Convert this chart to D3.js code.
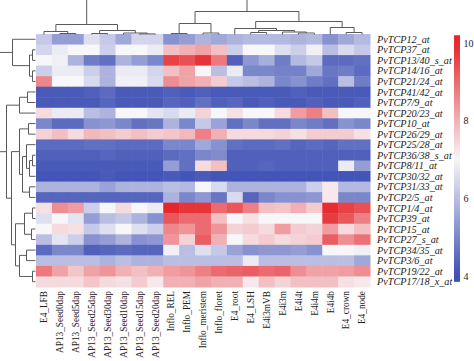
<!DOCTYPE html>
<html><head><meta charset="utf-8">
<script src="https://cdn.jsdelivr.net/npm/d3@7"></script>
<style>body{margin:0;background:#fff}svg{display:block}</style>
</head><body><svg id="c" width="474" height="361"></svg>
<script>
const colNames = ["E4_LFB","AP13_Seed0dap","AP13_Seed5dap","AP13_Seed25dap","AP13_Seed30dap","AP13_Seed10dap","AP13_Seed15dap","AP13_Seed20dap","Inflo_REL","Inflo_PEM","Inflo_meristem","Inflo_floret","E4_root","E4_LSH","E4i3mVB","E4i3m","E4i4t","E4i4m","E4i4b","E4_crown","E4_node"];
const rowNames = ["PvTCP12_at","PvTCP37_at","PvTCP13/40_s_at","PvTCP14/16_at","PvTCP21/24_at","PvTCP41/42_at","PvTCP7/9_at","PvTCP20/23_at","PvTCP10_at","PvTCP26/29_at","PvTCP25/28_at","PvTCP36/38_s_at","PvTCP8/11_at","PvTCP30/32_at","PvTCP31/33_at","PvTCP2/5_at","PvTCP1/4_at","PvTCP39_at","PvTCP15_at","PvTCP27_s_at","PvTCP34/35_at","PvTCP3/6_at","PvTCP19/22_at","PvTCP17/18_x_at"];
const expr = [
[6.2,5.4,5.4,6.6,6.2,5.6,6.4,6.4,5.2,5.4,5.8,5.6,5.8,5.9,5.9,5.9,5.8,5.9,5.2,5.6,5.9],
[6.4,6.8,7.0,7.0,6.3,7.0,7.0,6.8,7.8,8.0,8.2,7.8,6.3,7.0,7.0,6.6,6.3,6.9,6.0,6.5,6.2],
[7.0,6.9,5.8,4.8,4.6,5.8,5.4,5.0,9.6,9.4,9.8,8.8,4.3,5.3,5.7,4.8,5.9,6.2,4.5,4.5,4.6],
[6.3,6.8,6.8,6.3,5.8,6.8,6.8,6.4,7.8,8.2,7.0,6.0,6.8,5.0,5.0,4.9,4.9,5.6,4.7,4.8,4.5],
[8.6,7.0,7.0,6.5,5.8,6.9,6.9,6.5,8.5,8.2,8.0,7.6,6.2,6.0,5.8,5.0,5.2,4.8,4.6,6.0,4.8],
[4.2,4.2,4.2,4.3,4.5,4.2,4.2,4.2,4.3,4.2,4.3,4.2,4.2,4.2,4.2,4.2,4.3,4.2,4.2,4.2,4.2],
[4.2,4.2,4.2,4.2,4.4,4.2,4.2,4.2,4.4,4.3,4.6,4.3,4.4,4.2,4.3,4.2,4.2,4.3,4.2,4.2,4.3],
[7.4,6.8,6.8,6.0,5.8,7.0,7.0,6.7,6.5,6.8,7.5,7.0,7.3,7.0,7.0,7.4,8.3,8.7,7.8,7.0,7.0],
[5.0,4.5,4.5,5.2,5.3,5.0,4.6,4.7,5.8,5.0,6.2,5.5,4.6,5.0,4.6,4.6,5.0,4.8,4.6,5.2,5.0],
[7.5,7.8,7.4,7.9,7.8,7.6,7.8,7.6,7.7,7.9,8.7,8.0,7.4,7.4,7.4,7.5,7.3,7.6,7.6,7.6,7.3],
[4.5,4.5,4.5,4.6,4.6,4.5,4.5,4.5,5.0,5.0,5.6,5.2,4.6,4.5,4.5,4.6,4.4,4.5,4.4,4.6,4.6],
[4.3,4.3,4.3,4.3,4.4,4.3,4.3,4.3,4.5,4.6,5.0,5.1,4.3,4.3,4.3,4.3,4.3,4.3,4.3,4.3,4.3],
[4.2,4.2,4.2,4.2,4.2,4.2,4.2,4.2,5.4,4.6,7.4,7.8,4.3,4.3,4.4,4.3,4.3,4.3,4.3,6.8,5.4],
[4.1,4.1,4.1,4.1,4.2,4.1,4.1,4.1,4.2,4.1,4.2,4.1,4.1,4.1,4.1,4.1,4.1,4.1,4.1,4.1,4.1],
[5.8,5.8,5.8,5.8,5.5,5.8,5.8,5.8,6.0,5.9,7.0,6.5,5.8,5.8,5.8,5.8,5.8,6.3,7.2,5.9,5.9],
[4.4,4.4,4.4,4.4,4.4,4.4,4.4,4.4,5.8,5.0,5.3,4.7,6.5,4.4,5.0,5.2,5.2,5.3,7.2,5.0,5.0],
[7.3,8.5,8.3,6.3,7.0,7.4,7.0,6.8,10.0,9.8,9.8,9.0,9.3,8.7,7.8,7.7,8.0,7.6,9.9,9.6,9.4],
[6.6,7.0,6.7,5.4,6.0,6.2,5.8,5.2,9.3,9.0,9.0,7.8,7.0,7.3,7.0,7.0,7.0,7.0,9.7,9.3,8.7],
[7.0,7.4,7.3,6.2,6.6,7.0,6.6,6.3,8.6,8.4,9.0,8.4,7.5,7.6,7.4,8.3,7.6,7.5,8.3,7.4,7.8],
[6.0,6.7,6.3,5.2,5.4,5.8,5.2,5.3,8.4,7.5,9.2,8.0,7.0,7.4,7.6,7.4,7.5,7.6,9.2,8.5,8.9],
[4.5,5.0,5.0,4.3,4.4,4.5,4.4,4.4,6.9,6.0,6.6,6.2,5.5,5.2,5.3,5.3,5.4,5.2,7.0,7.0,6.9],
[6.0,6.0,6.0,6.0,5.8,6.0,5.8,5.8,6.0,6.0,6.0,6.0,6.0,6.8,6.0,6.0,6.0,6.0,6.0,6.0,5.6],
[8.8,8.2,7.7,8.2,8.4,8.0,7.8,8.0,8.3,8.4,8.7,9.0,9.1,9.2,9.0,9.1,8.5,8.2,8.2,8.3,8.5],
[7.4,7.4,7.4,7.7,7.4,7.3,7.6,7.2,8.0,8.0,8.2,8.0,8.0,7.2,7.8,7.5,7.8,7.8,7.8,7.3,7.2]
];
const legendTicks = [4, 6, 8, 10];
// dendrograms: {h: merge distance, c: children}, leaves are indices
const colTree = {h:39, c:[
  {h:10, c:[{h:3, c:[0,{h:1,c:[1,2]}]}, {h:4, c:[{h:1,c:[3,4]}, {h:1.5,c:[5,{h:0.6,c:[6,7]}]}]}]},
  {h:23, c:[
    {h:11, c:[{h:1,c:[8,9]}, {h:1.5,c:[10,11]}]},
    {h:13, c:[
      {h:6, c:[12, {h:4, c:[{h:2,c:[13,14]}, {h:2.5,c:[15,{h:1.5,c:[16,17]}]}]}]},
      {h:7, c:[18, {h:2,c:[19,20]}]}
    ]}
  ]}
]};
const rowTree = {h:39, c:[
  {h:23, c:[0, {h:6, c:[{h:3,c:[1,2]}, {h:3,c:[3,4]}]}]},
  {h:29, c:[
    {h:16, c:[{h:8,c:[5,6]}, 7]},
    {h:24, c:[
      {h:16, c:[{h:7,c:[8,9]}, {h:13, c:[{h:9, c:[10, {h:6, c:[{h:3,c:[11,12]}, 13]}]}, {h:6,c:[14,15]}]}]},
      {h:20, c:[{h:11, c:[{h:3,c:[16,17]}, {h:4,c:[18,19]}]}, {h:16, c:[{h:9,c:[20,21]}, {h:3,c:[22,23]}]}]}
    ]}
  ]}
]};

const svg = d3.select("#c");
const x = d3.scaleBand().domain(d3.range(colNames.length)).range([36, 370]);
const y = d3.scaleBand().domain(d3.range(rowNames.length)).range([34, 287]);
const color = d3.scaleLinear().domain([4, 7, 10]).range(["#3d4fb4", "#f7f6f9", "#e6262b"]).clamp(true);

// heatmap
const cells = [];
expr.forEach((row, r) => row.forEach((v, c) => cells.push({r, c, v})));
svg.append("g").selectAll("rect").data(cells).join("rect")
  .attr("x", d => x(d.c)).attr("y", d => y(d.r))
  .attr("width", x.bandwidth() + 0.5).attr("height", y.bandwidth() + 0.5)
  .attr("fill", d => color(d.v));

// dendrograms
const dg = svg.append("g").attr("stroke", "#5a5a5a").attr("stroke-width", 1).attr("fill", "none");
function drawTree(node, posOf, hScale, vertical) {
  if (typeof node === "number") return {p: posOf(node), h: 0};
  const kids = node.c.map(k => drawTree(k, posOf, hScale, vertical));
  const p = d3.mean([kids[0].p, kids[kids.length - 1].p]);
  const H = hScale(node.h);
  const ps = kids.map(k => k.p);
  if (vertical) {
    dg.append("line").attr("x1", d3.min(ps)).attr("x2", d3.max(ps)).attr("y1", H).attr("y2", H);
    kids.forEach(k => dg.append("line").attr("x1", k.p).attr("x2", k.p).attr("y1", H).attr("y2", hScale(k.h)));
  } else {
    dg.append("line").attr("y1", d3.min(ps)).attr("y2", d3.max(ps)).attr("x1", H).attr("x2", H);
    kids.forEach(k => dg.append("line").attr("y1", k.p).attr("y2", k.p).attr("x1", H).attr("x2", hScale(k.h)));
  }
  return {p, h: node.h};
}
drawTree(colTree, i => x(i) + x.bandwidth() / 2, d3.scaleLinear().domain([0, 40]).range([34.5, -5.5]), true);
drawTree(rowTree, i => y(i) + y.bandwidth() / 2, d3.scaleLinear().domain([0, 40]).range([35.5, -4.5]), false);

// row labels
svg.append("g").selectAll("text").data(rowNames).join("text")
  .attr("x", 377).attr("y", (d, i) => y(i) + y.bandwidth() / 2 + 3.6)
  .attr("font-family", "Liberation Serif, Times New Roman, serif")
  .attr("font-style", "italic").attr("font-size", 10.2).attr("fill", "#222")
  .text(d => d);

// column labels
svg.append("g").selectAll("text").data(colNames).join("text")
  .attr("transform", (d, i) => `translate(${x(i) + x.bandwidth() / 2 + 3.3},291) rotate(-90)`)
  .attr("text-anchor", "end")
  .attr("font-family", "Liberation Serif, Times New Roman, serif")
  .attr("font-size", 9.3).attr("fill", "#222")
  .text(d => d);

// legend
const ly = d3.scaleLinear().domain([4, 10]).range([276, 43]);
const defs = svg.append("defs");
const grad = defs.append("linearGradient").attr("id", "lg").attr("x1", 0).attr("x2", 0).attr("y1", 1).attr("y2", 0);
const lo = 3.85, hi = 10.2;
d3.range(0, 1.0001, 0.05).forEach(t => {
  grad.append("stop").attr("offset", t).attr("stop-color", color(lo + t * (hi - lo)));
});
svg.append("rect").attr("x", 454).attr("width", 6)
  .attr("y", ly(hi)).attr("height", ly(lo) - ly(hi)).attr("fill", "url(#lg)");
svg.append("g").selectAll("text").data(legendTicks).join("text")
  .attr("x", 463.5).attr("y", d => ly(d) + 3.5)
  .attr("font-family", "Liberation Serif, Times New Roman, serif")
  .attr("font-size", 10).attr("fill", "#222")
  .text(d => d);
</script></body></html>
